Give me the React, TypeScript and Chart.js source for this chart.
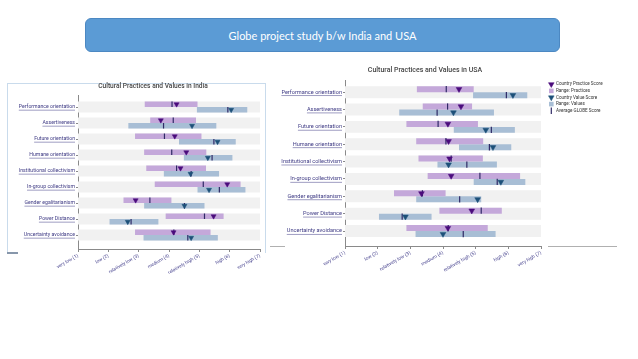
import React, { useEffect, useRef } from 'react';
import { Chart, registerables } from 'chart.js';

Chart.register(...registerables);

// ---------- data ----------
const categories = [
  'Performance orientation',
  'Assertiveness',
  'Future orientation',
  'Humane orientation',
  'Institutional collectivism',
  'In-group collectivism',
  'Gender egalitarianism',
  'Power Distance',
  'Uncertainty avoidance',
];
const scaleLabels = [
  'very low (1)',
  'low (2)',
  'relatively low (3)',
  'medium (4)',
  'relatively high (5)',
  'high (6)',
  'very high (7)',
];
const practiceRangeMin = [3.2, 3.38, 2.88, 3.18, 3.25, 3.53, 2.5, 3.89, 2.88];
const practiceRangeMax = [4.94, 4.89, 5.07, 5.23, 5.22, 6.36, 4.08, 5.8, 5.37];
const valueRangeMin = [4.92, 2.66, 4.33, 4.49, 3.83, 4.94, 3.18, 2.04, 3.16];
const valueRangeMax = [6.58, 5.56, 6.2, 6.09, 5.65, 6.52, 5.17, 3.65, 5.61];
const globePracticeAvg = [4.1, 4.14, 3.85, 4.09, 4.25, 5.13, 3.37, 5.17, 4.16];
const globeValueAvg = [5.94, 3.82, 5.48, 5.42, 4.73, 5.66, 4.51, 2.75, 4.62];
const indiaPractice = [4.25, 3.73, 4.19, 4.57, 4.38, 5.92, 2.9, 5.47, 4.15];
const indiaValue = [6.05, 4.76, 5.6, 5.28, 4.71, 5.32, 4.51, 2.64, 4.73];
const usaPractice = [4.49, 4.55, 4.15, 4.17, 4.2, 4.25, 3.34, 4.88, 4.15];
const usaValue = [6.14, 4.32, 5.31, 5.53, 4.17, 5.77, 5.06, 2.85, 4.0];

// ---------- styles ----------
const C_PRACTICE_RANGE = '#c4a8da';
const C_VALUE_RANGE = '#a8bed5';
const C_PRACTICE_SCORE = '#4b0c7c';
const C_VALUE_SCORE = '#1d5079';
const C_AVG = '#2f2a66';
const C_BAND = '#f1f1f1';
const C_YTICK = '#3e3a84';
const C_XTICK = '#4a4690';
const C_AXIS = '#8a8a8a';
const BAND_SHARE = 0.69;
const FONT = 'Roboto';

const underlinePlugin = {
  id: 'underlineTicks',
  afterDraw(chart: any) {
    const scale = chart.scales.y;
    if (!scale) return;
    const ctx = chart.ctx;
    const items = scale.getLabelItems();
    ctx.save();
    ctx.strokeStyle = C_YTICK;
    ctx.lineWidth = 0.5;
    for (const it of items) {
      ctx.font = it.font.string;
      const w = ctx.measureText(String(it.label)).width;
      const [x, y] = it.options.translation;
      const yy = y + it.font.size * 0.55 + 0.3;
      ctx.beginPath();
      ctx.moveTo(x - w, yy);
      ctx.lineTo(x, yy);
      ctx.stroke();
    }
    ctx.restore();
  },
};

type ChartProps = {
  title: string;
  practice: number[];
  value: number[];
  left: number;
  top: number;
  width: number;
  height: number;
  yAxisWidth: number;
  xAxisHeight: number;
  rightGap: number;
  yMin: number;
  yMax: number;
  padLeft: number;
  padRight: number;
  titleSize: number;
  titlePadTop: number;
  titlePadBottom: number;
  yLabelSize: number;
  xLabelSize: number;
  markerRadius: number;
  showLegend: boolean;
};

function GlobeChart(p: ChartProps) {
  const ref = useRef<HTMLCanvasElement>(null);
  useEffect(() => {
    const canvas = ref.current;
    if (!canvas) return;
    const off = BAND_SHARE / 4;
    const chart = new Chart(canvas, {
      type: 'bar',
      data: {
        datasets: [
          {
            type: 'scatter',
            label: 'Country Practice Score',
            data: p.practice.map((v, i) => ({ x: v, y: i - off })),
            pointStyle: 'triangle',
            rotation: 180,
            pointRadius: p.markerRadius,
            backgroundColor: C_PRACTICE_SCORE,
            borderColor: C_PRACTICE_SCORE,
            borderWidth: 0.5,
            yAxisID: 'y',
            order: 1,
          },
          {
            type: 'bar',
            label: 'Range: Practices',
            data: categories.map((_, i) => ({ x: [practiceRangeMin[i], practiceRangeMax[i]], y: i })),
            backgroundColor: C_PRACTICE_RANGE,
            pointStyle: 'rect',
            categoryPercentage: BAND_SHARE,
            barPercentage: 1,
            grouped: true,
            yAxisID: 'y',
            order: 5,
          },
          {
            type: 'scatter',
            label: 'Country Value Score',
            data: p.value.map((v, i) => ({ x: v, y: i + off })),
            pointStyle: 'triangle',
            rotation: 180,
            pointRadius: p.markerRadius,
            backgroundColor: C_VALUE_SCORE,
            borderColor: C_VALUE_SCORE,
            borderWidth: 0.5,
            yAxisID: 'y',
            order: 1,
          },
          {
            type: 'bar',
            label: 'Range: Values',
            data: categories.map((_, i) => ({ x: [valueRangeMin[i], valueRangeMax[i]], y: i })),
            backgroundColor: C_VALUE_RANGE,
            pointStyle: 'rect',
            categoryPercentage: BAND_SHARE,
            barPercentage: 1,
            grouped: true,
            yAxisID: 'y',
            order: 5,
          },
          {
            type: 'scatter',
            label: 'Average GLOBE Score',
            data: globePracticeAvg.map((v, i) => ({ x: v, y: i - off })),
            pointStyle: 'line',
            rotation: 90,
            pointRadius: p.markerRadius * 0.95,
            backgroundColor: C_AVG,
            borderColor: C_AVG,
            borderWidth: 1.2,
            yAxisID: 'y',
            order: 2,
          },
          {
            type: 'scatter',
            label: '',
            data: globeValueAvg.map((v, i) => ({ x: v, y: i + off })),
            pointStyle: 'line',
            rotation: 90,
            pointRadius: p.markerRadius * 0.95,
            backgroundColor: C_AVG,
            borderColor: C_AVG,
            borderWidth: 1.2,
            yAxisID: 'y',
            order: 2,
          },
          {
            type: 'bar',
            label: '',
            data: categories.map((_, i) => ({ x: [1, scaleLabels.length], y: i })),
            backgroundColor: C_BAND,
            categoryPercentage: BAND_SHARE,
            barPercentage: 1,
            grouped: false,
            yAxisID: 'y',
            order: 10,
          },
        ] as any,
      },
      options: {
        responsive: false,
        maintainAspectRatio: false,
        animation: false,
        events: [],
        indexAxis: 'y',
        layout: { padding: { left: p.padLeft, right: p.padRight, top: 0, bottom: 0 } },
        scales: {
          x: {
            type: 'linear',
            min: 1,
            max: scaleLabels.length,
            offset: false,
            afterBuildTicks: (s: any) => {
              s.ticks = scaleLabels.map((_, i) => ({ value: i + 1 }));
            },
            afterFit: (s: any) => {
              s.height = p.xAxisHeight;
            },
            ticks: {
              autoSkip: false,
              minRotation: 30,
              maxRotation: 30,
              padding: 1,
              color: C_XTICK,
              font: { family: FONT, size: p.xLabelSize },
              callback: (_v: any, i: number) => scaleLabels[i],
            },
            grid: { drawOnChartArea: false, tickLength: 3, color: C_AXIS, offset: false },
            border: { color: C_AXIS, width: 1 },
          },
          y: {
            type: 'linear',
            reverse: true,
            min: p.yMin,
            max: p.yMax,
            offset: false,
            afterBuildTicks: (s: any) => {
              s.ticks = categories.map((_, i) => ({ value: i }));
            },
            afterFit: (s: any) => {
              s.width = p.yAxisWidth;
            },
            ticks: {
              autoSkip: false,
              padding: 1,
              color: C_YTICK,
              font: { family: FONT, size: p.yLabelSize },
              callback: (_v: any, i: number) => categories[i],
            },
            grid: { drawOnChartArea: false, tickLength: 2, color: C_AXIS, offset: false },
            border: { color: C_AXIS, width: 1 },
          },
          yGap: {
            type: 'linear',
            axis: 'y',
            position: 'right',
            display: true,
            ticks: { display: false },
            grid: { display: false, drawTicks: false },
            border: { display: false },
            afterFit: (s: any) => {
              s.width = p.rightGap;
            },
          },
        } as any,
        plugins: {
          title: {
            display: true,
            text: p.title,
            color: '#444',
            font: { family: FONT, size: p.titleSize, weight: '500' as any },
            padding: { top: p.titlePadTop, bottom: p.titlePadBottom },
          },
          legend: {
            display: p.showLegend,
            position: 'right',
            align: 'start',
            fullSize: false,
            labels: {
              usePointStyle: true,
              boxWidth: 5,
              boxHeight: 5,
              padding: 2,
              color: '#333',
              font: { family: FONT, size: 4.6 },
              filter: (item: any) => item.datasetIndex <= 4,
              sort: (a: any, b: any) => a.datasetIndex - b.datasetIndex,
            },
          },
          tooltip: { enabled: false },
        },
      } as any,
      plugins: [underlinePlugin],
    });
    return () => chart.destroy();
  }, []);
  return (
    <canvas
      ref={ref}
      width={p.width}
      height={p.height}
      style={{ position: 'absolute', left: p.left, top: p.top, width: p.width, height: p.height }}
    />
  );
}

export default function App() {
  return (
    <div
      style={{
        position: 'fixed',
        left: 0,
        top: 0,
        width: 638,
        height: 359,
        background: '#fff',
        overflow: 'hidden',
      }}
    >
      <div
        style={{
          position: 'absolute',
          left: 85,
          top: 18,
          width: 475,
          height: 34,
          background: '#5b9bd5',
          border: '1px solid #4c88c2',
          borderRadius: 6,
          boxSizing: 'border-box',
          color: '#fff',
          display: 'flex',
          alignItems: 'center',
          justifyContent: 'center',
          fontFamily: 'Lato',
          fontSize: 11,
        }}
      >
        Globe project study b/w India and USA
      </div>
      <div
        style={{
          position: 'absolute',
          left: 7,
          top: 83,
          width: 259,
          height: 170,
          borderTop: '1px solid #c9dbec',
          borderLeft: '1px solid #c9dbec',
          borderRight: '1px solid #c9dbec',
          boxSizing: 'border-box',
        }}
      />
      <div style={{ position: 'absolute', left: 7, top: 252, width: 11, height: 2, background: '#8797ab' }} />
      <div style={{ position: 'absolute', left: 270, top: 246, width: 15, height: 1, background: '#b0b0b0' }} />
      <div style={{ position: 'absolute', left: 548, top: 246, width: 69, height: 1, background: '#b0b0b0' }} />
      <GlobeChart
        title="Cultural Practices and Values in India"
        practice={indiaPractice}
        value={indiaValue}
        left={8}
        top={80}
        width={290}
        height={210}
        yAxisWidth={70}
        xAxisHeight={41}
        rightGap={38}
        yMin={-0.75}
        yMax={8.875}
        padLeft={0}
        padRight={0}
        titleSize={6.6}
        titlePadTop={2.3}
        titlePadBottom={4.8}
        yLabelSize={5.2}
        xLabelSize={4.7}
        markerRadius={2.9}
        showLegend={false}
      />
      <GlobeChart
        title="Cultural Practices and Values in USA"
        practice={usaPractice}
        value={usaValue}
        left={210}
        top={60}
        width={428}
        height={227}
        yAxisWidth={103}
        xAxisHeight={41}
        rightGap={6}
        yMin={-0.7}
        yMax={8.86}
        padLeft={32}
        padRight={30}
        titleSize={7}
        titlePadTop={5.8}
        titlePadBottom={5.8}
        yLabelSize={5.6}
        xLabelSize={4.8}
        markerRadius={3.3}
        showLegend={true}
      />
    </div>
  );
}
